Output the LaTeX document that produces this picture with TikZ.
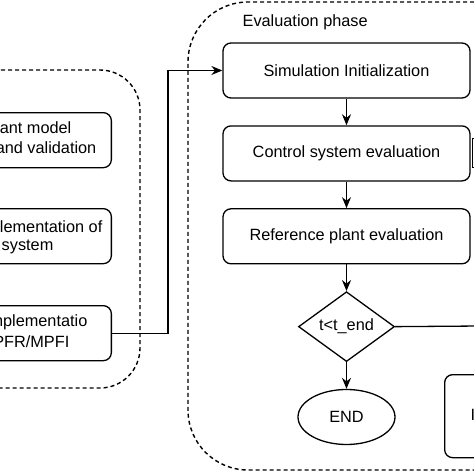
\documentclass[tikz,border=0pt]{standalone}
\usepackage{fontspec}
\setmainfont{Liberation Sans}
\usetikzlibrary{shapes.geometric, arrows.meta, positioning}

\begin{document}
\begin{tikzpicture}[x=1pt, y=1pt, line width=1.3pt, node distance=26.6pt,
        font=\fontsize{16.3}{20}\selectfont,
        stepbox/.style={draw, rounded corners=8pt, minimum width=247pt, minimum height=55pt, inner sep=0pt},
        phase/.style={draw, dash pattern=on 4pt off 3pt, line width=1.4pt},
        flow/.style={-{Stealth[length=11pt, width=9pt]}}]
        \useasboundingbox (0,0) rectangle (474,-474);
        % Phases
        \draw[phase, rounded corners=40pt] (-20,-70) -- (140,-70) -- (140,-388) -- (-20,-388);
        \draw[phase, rounded corners=60pt] (530,-2) -- (188,-2) -- (188,-470) -- (530,-470);
        \node[anchor=west, inner sep=0pt] (evaltitle) at (242,-22) {Evaluation phase};
        % Preparation steps
        \node[stepbox, minimum width=220pt, anchor=north east] (model) at (112,-112) {};
        \node[stepbox, minimum width=220pt, anchor=north east] (control) at (112,-208) {};
        \node[stepbox, minimum width=220pt, anchor=north east] (impl) at (112,-305) {};
        \node[anchor=east, inner sep=0pt] (model1) at (72,-128) {ant model};
        \node[anchor=east, inner sep=0pt] (model2) at (97,-148) {and validation};
        \node[anchor=east, inner sep=0pt] (control1) at (103,-227) {lementation of};
        \node[anchor=east, inner sep=0pt] (control2) at (54,-247) {system};
        \node[anchor=east, inner sep=0pt] (impl1) at (88,-322) {mplementatio};
        \node[anchor=east, inner sep=0pt] (impl2) at (70,-342) {PFR/MPFI};
        % Evaluation steps
        \node[stepbox] (sim) at (346.5,-70.5) {Simulation Initialization};
        \node[stepbox, below=of sim] (ctrl) {Control system evaluation};
        \node[stepbox, below=of ctrl] (ref) {Reference plant evaluation};
        \node[draw, diamond, minimum width=96pt, minimum height=68pt, inner sep=0pt, below=of ref] (check) {t<t\_end};
        \node[draw, ellipse, minimum width=97pt, minimum height=55pt, inner sep=0pt, below=of check] (stop) {END};
        \node[stepbox, minimum width=160pt, minimum height=83pt, anchor=north west] (next) at (444,-374) {};
        \node[anchor=west, inner sep=0pt] (next1) at (470,-415) {I};
        \node[draw, minimum width=20pt, minimum height=29pt, inner sep=0pt, anchor=north west] (aux) at (472,-138) {};
        % Connectors
        \coordinate (loop) at (480,-326);
        \draw[flow] (impl.east) -- ++(56,0) |- (sim.west);
        \draw[flow] (sim) -- (ctrl);
        \draw[flow] (ctrl) -- (ref);
        \draw[flow] (ref) -- (check);
        \draw[flow] (check) -- (stop);
        \draw (check.east) -- (loop);
    \end{tikzpicture}
\end{document}
